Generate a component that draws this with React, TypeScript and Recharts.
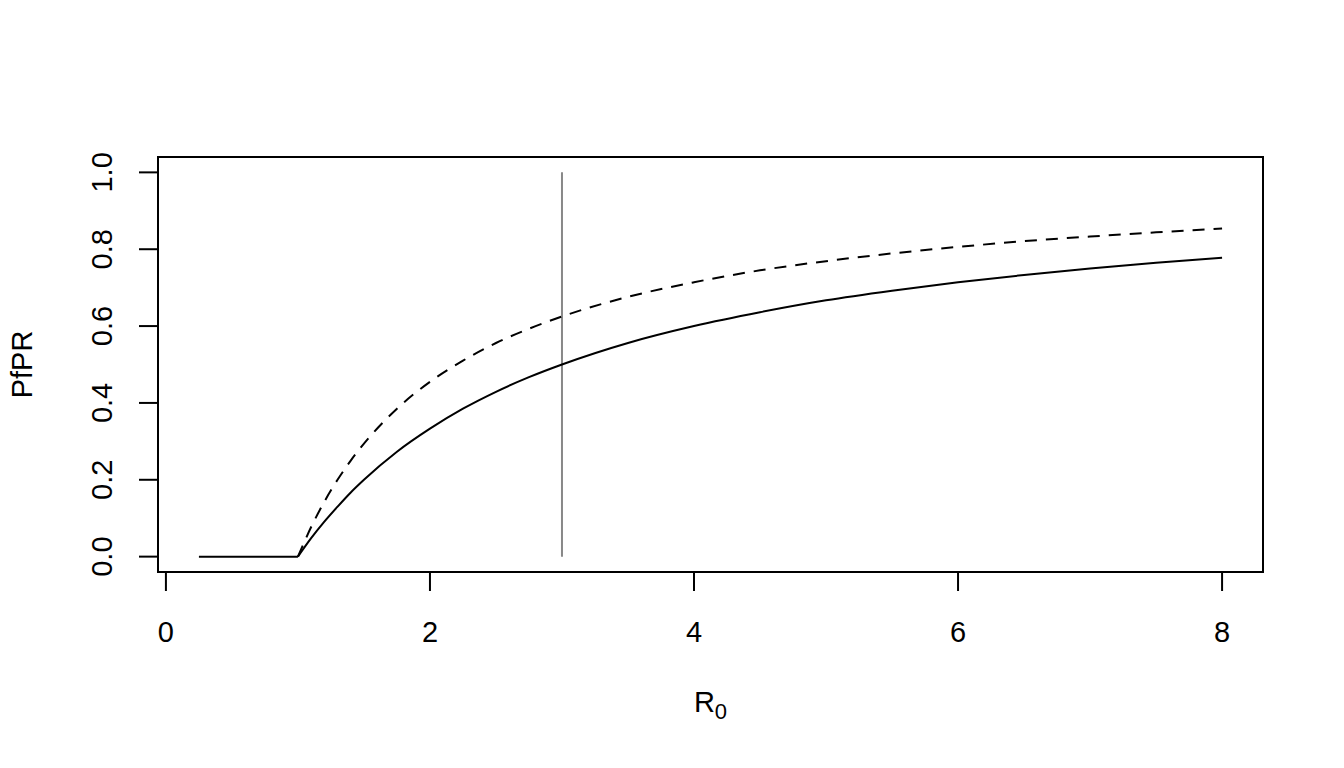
import { LineChart, Line, XAxis, YAxis, ReferenceLine, ReferenceArea } from "recharts";

// R0 values along the curves
const r0 = [0.25, 0.5, 0.75, 1, 1.1, 1.2, 1.3, 1.4, 1.5, 1.75, 2, 2.25, 2.5, 2.75, 3, 3.5, 4, 4.5, 5, 5.5, 6, 6.5, 7, 7.5, 8];
// flat part below R0 = 1
const pfprBase = [0, 0, 0, 0, null, null, null, null, null, null, null, null, null, null, null, null, null, null, null, null, null, null, null, null, null];
// solid curve
const pfprSolid = [null, null, null, 0, 0.048, 0.091, 0.13, 0.167, 0.2, 0.273, 0.333, 0.385, 0.429, 0.467, 0.5, 0.556, 0.6, 0.636, 0.667, 0.692, 0.714, 0.733, 0.75, 0.765, 0.778];
// dashed curve
const pfprDashed = [null, null, null, 0, 0.077, 0.143, 0.2, 0.25, 0.294, 0.385, 0.455, 0.51, 0.556, 0.593, 0.625, 0.676, 0.714, 0.745, 0.769, 0.789, 0.806, 0.821, 0.833, 0.844, 0.854];

const xTicks = [0, 2, 4, 6, 8];
const yTicks = [0, 0.2, 0.4, 0.6, 0.8, 1.0];
const markR0 = 3;

const data = r0.map((r, i) => ({ r, base: pfprBase[i], solid: pfprSolid[i], dashed: pfprDashed[i] }));

const font = "'Liberation Sans', Arial, Helvetica, sans-serif";
const fs = 29;

const XTick = (props: any) => {
  const { x, y, payload } = props;
  return (
    <text x={x} y={y} textAnchor="middle" fontSize={fs} fontFamily={font} fill="#000">
      {payload.value}
    </text>
  );
};

const YTick = (props: any) => {
  const { x, y, payload } = props;
  return (
    <text x={x} y={y} transform={`rotate(-90, ${x}, ${y})`} textAnchor="middle" fontSize={fs} fontFamily={font} fill="#000">
      {Number(payload.value).toFixed(1)}
    </text>
  );
};

const YLabel = (props: any) => {
  const vb = props.viewBox;
  const x = vb.x + 32;
  const y = vb.y + vb.height / 2;
  return (
    <text x={x} y={y} transform={`rotate(-90, ${x}, ${y})`} textAnchor="middle" fontSize={fs} fontFamily={font} fill="#000">
      PfPR
    </text>
  );
};

const XLabel = (props: any) => {
  const vb = props.viewBox;
  const x = vb.x + vb.width / 2;
  const y = vb.y + 140;
  return (
    <text x={x} y={y} textAnchor="middle" fontSize={fs} fontFamily={font} fill="#000">
      R<tspan fontSize={22} dy={7}>0</tspan>
    </text>
  );
};

const App = () => {
  return (
    <div style={{ position: "absolute", left: 0, top: 0, width: 1344, height: 768, background: "#fff" }}>
      <LineChart width={1344} height={768} data={data} margin={{ top: 157, right: 81, left: 0, bottom: 0 }}>
        <XAxis
          dataKey="r"
          type="number"
          domain={[-0.06, 8.31]}
          ticks={xTicks}
          height={196}
          axisLine={false}
          tickSize={19}
          tickMargin={51}
          tickLine={{ stroke: "#000", strokeWidth: 2 }}
          tick={<XTick />}
          label={<XLabel />}
        />
        <YAxis
          type="number"
          domain={[-0.04, 1.04]}
          ticks={yTicks}
          width={158}
          axisLine={false}
          tickSize={19}
          tickMargin={27}
          tickLine={{ stroke: "#000", strokeWidth: 2 }}
          tick={<YTick />}
          label={<YLabel />}
        />
        <ReferenceArea x1={-0.06} x2={8.31} y1={-0.04} y2={1.04} fill="none" fillOpacity={0} stroke="#000" strokeWidth={2} />
        <ReferenceLine segment={[{ x: markR0, y: 0 }, { x: markR0, y: 1 }]} stroke="#888" strokeWidth={2} />
        <Line type="linear" dataKey="base" stroke="#000" strokeWidth={2} dot={false} activeDot={false} isAnimationActive={false} />
        <Line type="monotone" dataKey="dashed" stroke="#000" strokeWidth={2} strokeDasharray="12 9" dot={false} activeDot={false} isAnimationActive={false} />
        <Line type="monotone" dataKey="solid" stroke="#000" strokeWidth={2} dot={false} activeDot={false} isAnimationActive={false} />
      </LineChart>
    </div>
  );
};

export default App;
